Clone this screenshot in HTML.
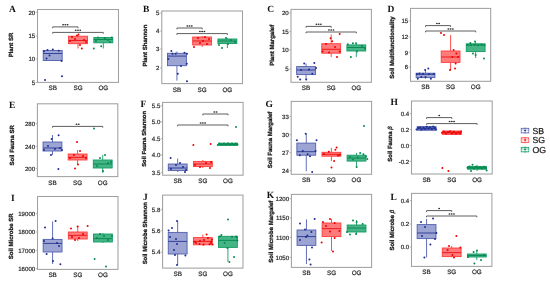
<!DOCTYPE html>
<html><head><meta charset="utf-8"><style>
html,body{margin:0;padding:0;background:#fff;}
body{width:550px;height:281px;overflow:hidden;}
svg{display:block;will-change:transform;}
text{text-rendering:geometricPrecision;}
.tk{font-family:"Liberation Sans", sans-serif;font-size:6.1px;fill:#262626;stroke:#262626;stroke-width:0.18px;}
.xl{font-family:"Liberation Sans", sans-serif;font-size:6.3px;fill:#262626;stroke:#262626;stroke-width:0.18px;}
.yl{font-family:"Liberation Sans", sans-serif;font-size:6.0px;font-weight:bold;fill:#111;stroke:#111;stroke-width:0.25px;}
.pl{font-family:"Liberation Serif", serif;font-size:9.5px;font-weight:bold;fill:#111;}
.lg{font-family:"Liberation Sans", sans-serif;font-size:8.7px;fill:#222;stroke:#222;stroke-width:0.25px;}
</style></head><body>
<svg width="550" height="281" viewBox="0 0 550 281">
<rect width="550" height="281" fill="#fff"/>
<rect x="37.50" y="9.50" width="81.00" height="72.90" fill="none" stroke="#a0a0a0" stroke-width="1.05"/>
<line x1="35.80" y1="12.40" x2="37.50" y2="12.40" stroke="#a0a0a0" stroke-width="0.8"/>
<text x="35.20" y="14.55" class="tk" text-anchor="end">20</text>
<line x1="35.80" y1="36.00" x2="37.50" y2="36.00" stroke="#a0a0a0" stroke-width="0.8"/>
<text x="35.20" y="38.15" class="tk" text-anchor="end">15</text>
<line x1="35.80" y1="59.00" x2="37.50" y2="59.00" stroke="#a0a0a0" stroke-width="0.8"/>
<text x="35.20" y="61.15" class="tk" text-anchor="end">10</text>
<line x1="35.80" y1="82.50" x2="37.50" y2="82.50" stroke="#a0a0a0" stroke-width="0.8"/>
<text x="35.20" y="84.65" class="tk" text-anchor="end">5</text>
<text x="52.69" y="90.30" class="xl" text-anchor="middle">SB</text>
<text x="78.00" y="90.30" class="xl" text-anchor="middle">SG</text>
<text x="103.31" y="90.30" class="xl" text-anchor="middle">OG</text>
<text x="0" y="0" class="yl" text-anchor="middle" transform="translate(13.00,45.00) rotate(-90)">Plant SR</text>
<text x="8.90" y="11.85" class="pl">A</text>
<line x1="52.69" y1="49.50" x2="52.69" y2="50.50" stroke="#5160ae" stroke-width="0.9"/>
<line x1="52.69" y1="60.50" x2="52.69" y2="61.00" stroke="#5160ae" stroke-width="0.9"/>
<rect x="43.20" y="50.50" width="18.98" height="10.00" fill="#9ba4d3" stroke="#5160ae" stroke-width="0.9"/>
<line x1="43.20" y1="53.50" x2="62.18" y2="53.50" stroke="#34429a" stroke-width="1"/>
<circle cx="44.00" cy="51.20" r="1.0" fill="#1f2e92"/>
<circle cx="47.50" cy="50.00" r="1.0" fill="#1f2e92"/>
<circle cx="52.80" cy="49.50" r="1.0" fill="#1f2e92"/>
<circle cx="58.80" cy="50.80" r="1.0" fill="#1f2e92"/>
<circle cx="49.50" cy="55.50" r="1.0" fill="#1f2e92"/>
<circle cx="46.50" cy="58.50" r="1.0" fill="#1f2e92"/>
<circle cx="61.50" cy="61.00" r="1.0" fill="#1f2e92"/>
<circle cx="45.00" cy="80.00" r="1.0" fill="#1f2e92"/>
<circle cx="62.00" cy="76.30" r="1.0" fill="#1f2e92"/>
<line x1="78.00" y1="35.00" x2="78.00" y2="36.20" stroke="#ff3c3c" stroke-width="0.9"/>
<line x1="78.00" y1="43.70" x2="78.00" y2="48.50" stroke="#ff3c3c" stroke-width="0.9"/>
<rect x="68.51" y="36.20" width="18.98" height="7.50" fill="#ff7a7a" stroke="#ff3c3c" stroke-width="0.9"/>
<line x1="68.51" y1="40.50" x2="87.49" y2="40.50" stroke="#ee1c1c" stroke-width="1"/>
<circle cx="78.50" cy="34.50" r="1.0" fill="#ee0000"/>
<circle cx="77.00" cy="35.50" r="1.0" fill="#ee0000"/>
<circle cx="81.80" cy="48.50" r="1.0" fill="#ee0000"/>
<circle cx="80.00" cy="45.00" r="1.0" fill="#ee0000"/>
<circle cx="72.00" cy="37.00" r="1.0" fill="#ee0000"/>
<circle cx="75.00" cy="39.00" r="1.0" fill="#ee0000"/>
<circle cx="84.00" cy="40.00" r="1.0" fill="#ee0000"/>
<circle cx="86.00" cy="42.00" r="1.0" fill="#ee0000"/>
<circle cx="70.00" cy="41.00" r="1.0" fill="#ee0000"/>
<line x1="103.31" y1="37.00" x2="103.31" y2="37.50" stroke="#129c66" stroke-width="0.9"/>
<line x1="103.31" y1="42.80" x2="103.31" y2="48.50" stroke="#129c66" stroke-width="0.9"/>
<rect x="93.82" y="37.50" width="18.98" height="5.30" fill="#45b585" stroke="#129c66" stroke-width="0.9"/>
<line x1="93.82" y1="39.50" x2="112.80" y2="39.50" stroke="#0b8a55" stroke-width="1"/>
<circle cx="93.80" cy="48.50" r="1.0" fill="#078a4e"/>
<circle cx="101.20" cy="46.20" r="1.0" fill="#078a4e"/>
<circle cx="111.80" cy="37.50" r="1.0" fill="#078a4e"/>
<circle cx="98.00" cy="37.50" r="1.0" fill="#078a4e"/>
<circle cx="105.00" cy="38.00" r="1.0" fill="#078a4e"/>
<circle cx="108.00" cy="40.00" r="1.0" fill="#078a4e"/>
<circle cx="96.00" cy="41.00" r="1.0" fill="#078a4e"/>
<circle cx="110.00" cy="42.00" r="1.0" fill="#078a4e"/>
<path d="M52.69 28.20V26.90H78.00V28.20" fill="none" stroke="#5e5e5e" stroke-width="1"/>
<ellipse cx="63.09" cy="24.80" rx="0.95" ry="0.75" fill="#2a2a2a"/>
<ellipse cx="65.34" cy="24.80" rx="0.95" ry="0.75" fill="#2a2a2a"/>
<ellipse cx="67.59" cy="24.80" rx="0.95" ry="0.75" fill="#2a2a2a"/>
<path d="M52.69 33.70V32.40H103.31V33.70" fill="none" stroke="#5e5e5e" stroke-width="1"/>
<ellipse cx="75.75" cy="30.30" rx="0.95" ry="0.75" fill="#2a2a2a"/>
<ellipse cx="78.00" cy="30.30" rx="0.95" ry="0.75" fill="#2a2a2a"/>
<ellipse cx="80.25" cy="30.30" rx="0.95" ry="0.75" fill="#2a2a2a"/>
<rect x="161.80" y="11.00" width="80.70" height="72.60" fill="none" stroke="#a0a0a0" stroke-width="1.05"/>
<line x1="160.10" y1="13.00" x2="161.80" y2="13.00" stroke="#a0a0a0" stroke-width="0.8"/>
<text x="159.50" y="15.15" class="tk" text-anchor="end">5</text>
<line x1="160.10" y1="31.00" x2="161.80" y2="31.00" stroke="#a0a0a0" stroke-width="0.8"/>
<text x="159.50" y="33.15" class="tk" text-anchor="end">4</text>
<line x1="160.10" y1="49.00" x2="161.80" y2="49.00" stroke="#a0a0a0" stroke-width="0.8"/>
<text x="159.50" y="51.15" class="tk" text-anchor="end">3</text>
<line x1="160.10" y1="68.00" x2="161.80" y2="68.00" stroke="#a0a0a0" stroke-width="0.8"/>
<text x="159.50" y="70.15" class="tk" text-anchor="end">2</text>
<text x="176.93" y="91.50" class="xl" text-anchor="middle">SB</text>
<text x="202.15" y="91.50" class="xl" text-anchor="middle">SG</text>
<text x="227.37" y="91.50" class="xl" text-anchor="middle">OG</text>
<text x="0" y="0" class="yl" text-anchor="middle" transform="translate(147.40,45.60) rotate(-90)">Plant Shannon</text>
<text x="143.10" y="12.00" class="pl">B</text>
<line x1="176.93" y1="51.50" x2="176.93" y2="53.30" stroke="#5160ae" stroke-width="0.9"/>
<line x1="176.93" y1="65.70" x2="176.93" y2="80.60" stroke="#5160ae" stroke-width="0.9"/>
<rect x="167.47" y="53.30" width="18.91" height="12.40" fill="#9ba4d3" stroke="#5160ae" stroke-width="0.9"/>
<line x1="167.47" y1="56.10" x2="186.39" y2="56.10" stroke="#34429a" stroke-width="1"/>
<circle cx="171.40" cy="51.00" r="1.0" fill="#1f2e92"/>
<circle cx="184.50" cy="52.80" r="1.0" fill="#1f2e92"/>
<circle cx="172.50" cy="53.80" r="1.0" fill="#1f2e92"/>
<circle cx="175.70" cy="53.80" r="1.0" fill="#1f2e92"/>
<circle cx="187.00" cy="53.80" r="1.0" fill="#1f2e92"/>
<circle cx="168.30" cy="59.00" r="1.0" fill="#1f2e92"/>
<circle cx="186.80" cy="63.80" r="1.0" fill="#1f2e92"/>
<circle cx="181.00" cy="66.00" r="1.0" fill="#1f2e92"/>
<circle cx="177.80" cy="73.80" r="1.0" fill="#1f2e92"/>
<circle cx="187.00" cy="81.30" r="1.0" fill="#1f2e92"/>
<line x1="202.15" y1="36.00" x2="202.15" y2="37.00" stroke="#ff3c3c" stroke-width="0.9"/>
<line x1="202.15" y1="45.00" x2="202.15" y2="47.00" stroke="#ff3c3c" stroke-width="0.9"/>
<rect x="192.69" y="37.00" width="18.91" height="8.00" fill="#ff7a7a" stroke="#ff3c3c" stroke-width="0.9"/>
<line x1="192.69" y1="41.00" x2="211.61" y2="41.00" stroke="#ee1c1c" stroke-width="1"/>
<circle cx="194.00" cy="47.00" r="1.0" fill="#ee0000"/>
<circle cx="198.00" cy="38.00" r="1.0" fill="#ee0000"/>
<circle cx="205.00" cy="37.00" r="1.0" fill="#ee0000"/>
<circle cx="209.00" cy="39.00" r="1.0" fill="#ee0000"/>
<circle cx="200.00" cy="43.00" r="1.0" fill="#ee0000"/>
<circle cx="207.00" cy="44.00" r="1.0" fill="#ee0000"/>
<circle cx="203.00" cy="41.00" r="1.0" fill="#ee0000"/>
<line x1="227.37" y1="38.00" x2="227.37" y2="39.00" stroke="#129c66" stroke-width="0.9"/>
<line x1="227.37" y1="43.60" x2="227.37" y2="48.00" stroke="#129c66" stroke-width="0.9"/>
<rect x="217.91" y="39.00" width="18.91" height="4.60" fill="#45b585" stroke="#129c66" stroke-width="0.9"/>
<line x1="217.91" y1="41.00" x2="236.83" y2="41.00" stroke="#0b8a55" stroke-width="1"/>
<circle cx="219.00" cy="45.00" r="1.0" fill="#078a4e"/>
<circle cx="222.00" cy="48.00" r="1.0" fill="#078a4e"/>
<circle cx="226.00" cy="38.00" r="1.0" fill="#078a4e"/>
<circle cx="231.00" cy="40.00" r="1.0" fill="#078a4e"/>
<circle cx="235.00" cy="42.00" r="1.0" fill="#078a4e"/>
<circle cx="228.00" cy="44.00" r="1.0" fill="#078a4e"/>
<path d="M176.93 29.30V28.00H202.15V29.30" fill="none" stroke="#5e5e5e" stroke-width="1"/>
<ellipse cx="187.29" cy="25.90" rx="0.95" ry="0.75" fill="#2a2a2a"/>
<ellipse cx="189.54" cy="25.90" rx="0.95" ry="0.75" fill="#2a2a2a"/>
<ellipse cx="191.79" cy="25.90" rx="0.95" ry="0.75" fill="#2a2a2a"/>
<path d="M176.93 34.90V33.60H227.37V34.90" fill="none" stroke="#5e5e5e" stroke-width="1"/>
<ellipse cx="199.90" cy="31.50" rx="0.95" ry="0.75" fill="#2a2a2a"/>
<ellipse cx="202.15" cy="31.50" rx="0.95" ry="0.75" fill="#2a2a2a"/>
<ellipse cx="204.40" cy="31.50" rx="0.95" ry="0.75" fill="#2a2a2a"/>
<rect x="291.00" y="9.40" width="80.40" height="72.90" fill="none" stroke="#a0a0a0" stroke-width="1.05"/>
<line x1="289.30" y1="13.00" x2="291.00" y2="13.00" stroke="#a0a0a0" stroke-width="0.8"/>
<text x="288.70" y="15.15" class="tk" text-anchor="end">20</text>
<line x1="289.30" y1="31.60" x2="291.00" y2="31.60" stroke="#a0a0a0" stroke-width="0.8"/>
<text x="288.70" y="33.75" class="tk" text-anchor="end">15</text>
<line x1="289.30" y1="50.00" x2="291.00" y2="50.00" stroke="#a0a0a0" stroke-width="0.8"/>
<text x="288.70" y="52.15" class="tk" text-anchor="end">10</text>
<line x1="289.30" y1="69.00" x2="291.00" y2="69.00" stroke="#a0a0a0" stroke-width="0.8"/>
<text x="288.70" y="71.15" class="tk" text-anchor="end">5</text>
<text x="306.07" y="90.20" class="xl" text-anchor="middle">SB</text>
<text x="331.20" y="90.20" class="xl" text-anchor="middle">SG</text>
<text x="356.32" y="90.20" class="xl" text-anchor="middle">OG</text>
<text x="0" y="0" class="yl" text-anchor="middle" transform="translate(274.10,45.30) rotate(-90)">Plant Margalef</text>
<text x="267.30" y="11.90" class="pl">C</text>
<line x1="306.07" y1="63.50" x2="306.07" y2="66.60" stroke="#5160ae" stroke-width="0.9"/>
<line x1="306.07" y1="74.60" x2="306.07" y2="79.40" stroke="#5160ae" stroke-width="0.9"/>
<rect x="296.65" y="66.60" width="18.84" height="8.00" fill="#9ba4d3" stroke="#5160ae" stroke-width="0.9"/>
<line x1="296.65" y1="70.00" x2="315.50" y2="70.00" stroke="#34429a" stroke-width="1"/>
<circle cx="304.20" cy="63.50" r="1.0" fill="#1f2e92"/>
<circle cx="314.30" cy="63.10" r="1.0" fill="#1f2e92"/>
<circle cx="316.00" cy="68.00" r="1.0" fill="#1f2e92"/>
<circle cx="297.70" cy="76.70" r="1.0" fill="#1f2e92"/>
<circle cx="300.10" cy="79.40" r="1.0" fill="#1f2e92"/>
<circle cx="306.20" cy="79.40" r="1.0" fill="#1f2e92"/>
<circle cx="312.30" cy="73.70" r="1.0" fill="#1f2e92"/>
<circle cx="301.00" cy="70.00" r="1.0" fill="#1f2e92"/>
<circle cx="309.00" cy="69.50" r="1.0" fill="#1f2e92"/>
<line x1="331.20" y1="34.50" x2="331.20" y2="43.70" stroke="#ff3c3c" stroke-width="0.9"/>
<line x1="331.20" y1="53.20" x2="331.20" y2="57.00" stroke="#ff3c3c" stroke-width="0.9"/>
<rect x="321.78" y="43.70" width="18.84" height="9.50" fill="#ff7a7a" stroke="#ff3c3c" stroke-width="0.9"/>
<line x1="321.78" y1="49.30" x2="340.62" y2="49.30" stroke="#ee1c1c" stroke-width="1"/>
<circle cx="339.70" cy="34.10" r="1.0" fill="#ee0000"/>
<circle cx="330.60" cy="38.20" r="1.0" fill="#ee0000"/>
<circle cx="332.20" cy="41.20" r="1.0" fill="#ee0000"/>
<circle cx="322.50" cy="51.40" r="1.0" fill="#ee0000"/>
<circle cx="337.00" cy="57.00" r="1.0" fill="#ee0000"/>
<circle cx="339.70" cy="51.40" r="1.0" fill="#ee0000"/>
<circle cx="326.00" cy="44.00" r="1.0" fill="#ee0000"/>
<circle cx="335.00" cy="47.00" r="1.0" fill="#ee0000"/>
<circle cx="329.00" cy="52.50" r="1.0" fill="#ee0000"/>
<line x1="356.32" y1="43.50" x2="356.32" y2="44.90" stroke="#129c66" stroke-width="0.9"/>
<line x1="356.32" y1="51.00" x2="356.32" y2="57.00" stroke="#129c66" stroke-width="0.9"/>
<rect x="346.90" y="44.90" width="18.84" height="6.10" fill="#45b585" stroke="#129c66" stroke-width="0.9"/>
<line x1="346.90" y1="47.50" x2="365.75" y2="47.50" stroke="#0b8a55" stroke-width="1"/>
<circle cx="350.90" cy="57.00" r="1.0" fill="#078a4e"/>
<circle cx="347.80" cy="44.30" r="1.0" fill="#078a4e"/>
<circle cx="352.90" cy="43.30" r="1.0" fill="#078a4e"/>
<circle cx="356.00" cy="43.30" r="1.0" fill="#078a4e"/>
<circle cx="357.00" cy="51.40" r="1.0" fill="#078a4e"/>
<circle cx="362.00" cy="46.00" r="1.0" fill="#078a4e"/>
<circle cx="365.00" cy="48.50" r="1.0" fill="#078a4e"/>
<path d="M306.07 27.70V26.40H331.20V27.70" fill="none" stroke="#5e5e5e" stroke-width="1"/>
<ellipse cx="316.39" cy="24.30" rx="0.95" ry="0.75" fill="#2a2a2a"/>
<ellipse cx="318.64" cy="24.30" rx="0.95" ry="0.75" fill="#2a2a2a"/>
<ellipse cx="320.89" cy="24.30" rx="0.95" ry="0.75" fill="#2a2a2a"/>
<path d="M306.07 33.30V32.00H356.32V33.30" fill="none" stroke="#5e5e5e" stroke-width="1"/>
<ellipse cx="328.95" cy="29.90" rx="0.95" ry="0.75" fill="#2a2a2a"/>
<ellipse cx="331.20" cy="29.90" rx="0.95" ry="0.75" fill="#2a2a2a"/>
<ellipse cx="333.45" cy="29.90" rx="0.95" ry="0.75" fill="#2a2a2a"/>
<rect x="410.50" y="8.40" width="80.20" height="72.90" fill="none" stroke="#a0a0a0" stroke-width="1.05"/>
<line x1="408.80" y1="21.00" x2="410.50" y2="21.00" stroke="#a0a0a0" stroke-width="0.8"/>
<text x="408.20" y="23.15" class="tk" text-anchor="end">15</text>
<line x1="408.80" y1="37.00" x2="410.50" y2="37.00" stroke="#a0a0a0" stroke-width="0.8"/>
<text x="408.20" y="39.15" class="tk" text-anchor="end">12</text>
<line x1="408.80" y1="52.40" x2="410.50" y2="52.40" stroke="#a0a0a0" stroke-width="0.8"/>
<text x="408.20" y="54.55" class="tk" text-anchor="end">9</text>
<line x1="408.80" y1="67.00" x2="410.50" y2="67.00" stroke="#a0a0a0" stroke-width="0.8"/>
<text x="408.20" y="69.15" class="tk" text-anchor="end">6</text>
<text x="425.54" y="89.20" class="xl" text-anchor="middle">SB</text>
<text x="450.60" y="89.20" class="xl" text-anchor="middle">SG</text>
<text x="475.66" y="89.20" class="xl" text-anchor="middle">OG</text>
<text x="0" y="0" class="yl" text-anchor="middle" transform="translate(393.60,47.60) rotate(-90)">Soil Multifunctionality</text>
<text x="387.60" y="11.90" class="pl">D</text>
<line x1="425.54" y1="70.00" x2="425.54" y2="73.20" stroke="#5160ae" stroke-width="0.9"/>
<line x1="425.54" y1="77.60" x2="425.54" y2="78.70" stroke="#5160ae" stroke-width="0.9"/>
<rect x="416.14" y="73.20" width="18.80" height="4.40" fill="#9ba4d3" stroke="#5160ae" stroke-width="0.9"/>
<line x1="416.14" y1="74.30" x2="434.94" y2="74.30" stroke="#34429a" stroke-width="1"/>
<circle cx="425.10" cy="70.10" r="1.0" fill="#1f2e92"/>
<circle cx="428.30" cy="68.50" r="1.0" fill="#1f2e92"/>
<circle cx="417.80" cy="78.70" r="1.0" fill="#1f2e92"/>
<circle cx="421.30" cy="77.10" r="1.0" fill="#1f2e92"/>
<circle cx="425.50" cy="77.10" r="1.0" fill="#1f2e92"/>
<circle cx="430.90" cy="78.70" r="1.0" fill="#1f2e92"/>
<circle cx="433.80" cy="73.90" r="1.0" fill="#1f2e92"/>
<circle cx="416.80" cy="74.30" r="1.0" fill="#1f2e92"/>
<circle cx="419.50" cy="73.60" r="1.0" fill="#1f2e92"/>
<circle cx="423.00" cy="73.80" r="1.0" fill="#1f2e92"/>
<circle cx="429.00" cy="74.00" r="1.0" fill="#1f2e92"/>
<line x1="450.60" y1="35.00" x2="450.60" y2="51.00" stroke="#ff3c3c" stroke-width="0.9"/>
<line x1="450.60" y1="62.40" x2="450.60" y2="70.00" stroke="#ff3c3c" stroke-width="0.9"/>
<rect x="441.20" y="51.00" width="18.80" height="11.40" fill="#ff7a7a" stroke="#ff3c3c" stroke-width="0.9"/>
<line x1="441.20" y1="57.00" x2="460.00" y2="57.00" stroke="#ee1c1c" stroke-width="1"/>
<circle cx="441.00" cy="33.00" r="1.0" fill="#ee0000"/>
<circle cx="444.00" cy="35.00" r="1.0" fill="#ee0000"/>
<circle cx="453.60" cy="50.00" r="1.0" fill="#ee0000"/>
<circle cx="456.40" cy="53.60" r="1.0" fill="#ee0000"/>
<circle cx="450.00" cy="70.00" r="1.0" fill="#ee0000"/>
<circle cx="455.00" cy="68.60" r="1.0" fill="#ee0000"/>
<circle cx="452.40" cy="57.00" r="1.0" fill="#ee0000"/>
<circle cx="458.00" cy="57.00" r="1.0" fill="#ee0000"/>
<circle cx="455.60" cy="63.60" r="1.0" fill="#ee0000"/>
<line x1="475.66" y1="42.00" x2="475.66" y2="43.80" stroke="#129c66" stroke-width="0.9"/>
<line x1="475.66" y1="51.60" x2="475.66" y2="58.00" stroke="#129c66" stroke-width="0.9"/>
<rect x="466.26" y="43.80" width="18.80" height="7.80" fill="#45b585" stroke="#129c66" stroke-width="0.9"/>
<line x1="466.26" y1="45.00" x2="485.06" y2="45.00" stroke="#0b8a55" stroke-width="1"/>
<circle cx="470.40" cy="43.00" r="1.0" fill="#078a4e"/>
<circle cx="475.00" cy="41.60" r="1.0" fill="#078a4e"/>
<circle cx="473.00" cy="53.60" r="1.0" fill="#078a4e"/>
<circle cx="475.60" cy="55.00" r="1.0" fill="#078a4e"/>
<circle cx="484.00" cy="58.40" r="1.0" fill="#078a4e"/>
<circle cx="467.50" cy="45.00" r="1.0" fill="#078a4e"/>
<circle cx="471.00" cy="45.30" r="1.0" fill="#078a4e"/>
<circle cx="474.50" cy="44.80" r="1.0" fill="#078a4e"/>
<circle cx="478.00" cy="45.20" r="1.0" fill="#078a4e"/>
<circle cx="481.50" cy="44.80" r="1.0" fill="#078a4e"/>
<circle cx="484.50" cy="45.20" r="1.0" fill="#078a4e"/>
<path d="M425.54 26.90V25.60H450.60V26.90" fill="none" stroke="#5e5e5e" stroke-width="1"/>
<ellipse cx="436.94" cy="23.50" rx="0.95" ry="0.75" fill="#2a2a2a"/>
<ellipse cx="439.19" cy="23.50" rx="0.95" ry="0.75" fill="#2a2a2a"/>
<path d="M425.54 32.30V31.00H475.66V32.30" fill="none" stroke="#5e5e5e" stroke-width="1"/>
<ellipse cx="448.35" cy="28.90" rx="0.95" ry="0.75" fill="#2a2a2a"/>
<ellipse cx="450.60" cy="28.90" rx="0.95" ry="0.75" fill="#2a2a2a"/>
<ellipse cx="452.85" cy="28.90" rx="0.95" ry="0.75" fill="#2a2a2a"/>
<rect x="37.40" y="103.80" width="80.40" height="72.80" fill="none" stroke="#a0a0a0" stroke-width="1.05"/>
<line x1="35.70" y1="123.60" x2="37.40" y2="123.60" stroke="#a0a0a0" stroke-width="0.8"/>
<text x="35.10" y="125.75" class="tk" text-anchor="end">280</text>
<line x1="35.70" y1="146.40" x2="37.40" y2="146.40" stroke="#a0a0a0" stroke-width="0.8"/>
<text x="35.10" y="148.55" class="tk" text-anchor="end">240</text>
<line x1="35.70" y1="168.60" x2="37.40" y2="168.60" stroke="#a0a0a0" stroke-width="0.8"/>
<text x="35.10" y="170.75" class="tk" text-anchor="end">200</text>
<text x="52.47" y="184.50" class="xl" text-anchor="middle">SB</text>
<text x="77.60" y="184.50" class="xl" text-anchor="middle">SG</text>
<text x="102.72" y="184.50" class="xl" text-anchor="middle">OG</text>
<text x="0" y="0" class="yl" text-anchor="middle" transform="translate(14.40,145.30) rotate(-90)">Soil Fauna SR</text>
<text x="9.00" y="107.70" class="pl">E</text>
<line x1="52.47" y1="135.00" x2="52.47" y2="142.00" stroke="#5160ae" stroke-width="0.9"/>
<line x1="52.47" y1="151.00" x2="52.47" y2="155.00" stroke="#5160ae" stroke-width="0.9"/>
<rect x="43.05" y="142.00" width="18.84" height="9.00" fill="#9ba4d3" stroke="#5160ae" stroke-width="0.9"/>
<line x1="43.05" y1="148.00" x2="61.90" y2="148.00" stroke="#34429a" stroke-width="1"/>
<circle cx="58.60" cy="135.20" r="1.0" fill="#1f2e92"/>
<circle cx="51.60" cy="139.00" r="1.0" fill="#1f2e92"/>
<circle cx="51.00" cy="155.00" r="1.0" fill="#1f2e92"/>
<circle cx="58.40" cy="169.00" r="1.0" fill="#1f2e92"/>
<circle cx="44.00" cy="150.00" r="1.0" fill="#1f2e92"/>
<circle cx="48.00" cy="146.00" r="1.0" fill="#1f2e92"/>
<circle cx="55.00" cy="149.00" r="1.0" fill="#1f2e92"/>
<circle cx="60.00" cy="148.00" r="1.0" fill="#1f2e92"/>
<circle cx="62.00" cy="150.00" r="1.0" fill="#1f2e92"/>
<line x1="77.60" y1="150.00" x2="77.60" y2="154.00" stroke="#ff3c3c" stroke-width="0.9"/>
<line x1="77.60" y1="160.00" x2="77.60" y2="165.00" stroke="#ff3c3c" stroke-width="0.9"/>
<rect x="68.18" y="154.00" width="18.84" height="6.00" fill="#ff7a7a" stroke="#ff3c3c" stroke-width="0.9"/>
<line x1="68.18" y1="157.40" x2="87.02" y2="157.40" stroke="#ee1c1c" stroke-width="1"/>
<circle cx="77.00" cy="142.00" r="1.0" fill="#ee0000"/>
<circle cx="75.00" cy="168.60" r="1.0" fill="#ee0000"/>
<circle cx="78.00" cy="164.60" r="1.0" fill="#ee0000"/>
<circle cx="70.00" cy="158.00" r="1.0" fill="#ee0000"/>
<circle cx="74.00" cy="155.00" r="1.0" fill="#ee0000"/>
<circle cx="83.00" cy="156.00" r="1.0" fill="#ee0000"/>
<circle cx="86.00" cy="158.00" r="1.0" fill="#ee0000"/>
<circle cx="80.00" cy="151.00" r="1.0" fill="#ee0000"/>
<line x1="102.72" y1="155.00" x2="102.72" y2="160.00" stroke="#129c66" stroke-width="0.9"/>
<line x1="102.72" y1="168.00" x2="102.72" y2="173.00" stroke="#129c66" stroke-width="0.9"/>
<rect x="93.30" y="160.00" width="18.84" height="8.00" fill="#45b585" stroke="#129c66" stroke-width="0.9"/>
<line x1="93.30" y1="164.00" x2="112.15" y2="164.00" stroke="#0b8a55" stroke-width="1"/>
<circle cx="94.00" cy="128.60" r="1.0" fill="#078a4e"/>
<circle cx="100.00" cy="158.00" r="1.0" fill="#078a4e"/>
<circle cx="105.00" cy="155.00" r="1.0" fill="#078a4e"/>
<circle cx="108.00" cy="163.00" r="1.0" fill="#078a4e"/>
<circle cx="97.00" cy="166.00" r="1.0" fill="#078a4e"/>
<circle cx="111.00" cy="162.00" r="1.0" fill="#078a4e"/>
<circle cx="103.00" cy="171.00" r="1.0" fill="#078a4e"/>
<path d="M52.47 127.70V126.40H102.72V127.70" fill="none" stroke="#5e5e5e" stroke-width="1"/>
<ellipse cx="76.47" cy="124.30" rx="0.95" ry="0.75" fill="#2a2a2a"/>
<ellipse cx="78.72" cy="124.30" rx="0.95" ry="0.75" fill="#2a2a2a"/>
<rect x="162.60" y="102.40" width="80.50" height="72.80" fill="none" stroke="#a0a0a0" stroke-width="1.05"/>
<line x1="160.90" y1="105.60" x2="162.60" y2="105.60" stroke="#a0a0a0" stroke-width="0.8"/>
<text x="160.30" y="107.75" class="tk" text-anchor="end">5.5</text>
<line x1="160.90" y1="121.80" x2="162.60" y2="121.80" stroke="#a0a0a0" stroke-width="0.8"/>
<text x="160.30" y="123.95" class="tk" text-anchor="end">5.0</text>
<line x1="160.90" y1="138.50" x2="162.60" y2="138.50" stroke="#a0a0a0" stroke-width="0.8"/>
<text x="160.30" y="140.65" class="tk" text-anchor="end">4.5</text>
<line x1="160.90" y1="155.00" x2="162.60" y2="155.00" stroke="#a0a0a0" stroke-width="0.8"/>
<text x="160.30" y="157.15" class="tk" text-anchor="end">4.0</text>
<line x1="160.90" y1="172.40" x2="162.60" y2="172.40" stroke="#a0a0a0" stroke-width="0.8"/>
<text x="160.30" y="174.55" class="tk" text-anchor="end">3.5</text>
<text x="177.69" y="183.10" class="xl" text-anchor="middle">SB</text>
<text x="202.85" y="183.10" class="xl" text-anchor="middle">SG</text>
<text x="228.01" y="183.10" class="xl" text-anchor="middle">OG</text>
<text x="0" y="0" class="yl" style="font-size:5.8px" text-anchor="middle" transform="translate(146.10,138.90) rotate(-90)">Soil Fauna Shannon</text>
<text x="140.50" y="106.60" class="pl">F</text>
<line x1="177.69" y1="158.60" x2="177.69" y2="164.00" stroke="#5160ae" stroke-width="0.9"/>
<line x1="177.69" y1="170.60" x2="177.69" y2="172.00" stroke="#5160ae" stroke-width="0.9"/>
<rect x="168.26" y="164.00" width="18.87" height="6.60" fill="#9ba4d3" stroke="#5160ae" stroke-width="0.9"/>
<line x1="168.26" y1="168.00" x2="187.13" y2="168.00" stroke="#34429a" stroke-width="1"/>
<circle cx="170.60" cy="158.00" r="1.0" fill="#1f2e92"/>
<circle cx="176.00" cy="165.00" r="1.0" fill="#1f2e92"/>
<circle cx="180.00" cy="163.00" r="1.0" fill="#1f2e92"/>
<circle cx="183.00" cy="167.00" r="1.0" fill="#1f2e92"/>
<circle cx="186.00" cy="170.00" r="1.0" fill="#1f2e92"/>
<circle cx="185.00" cy="172.00" r="1.0" fill="#1f2e92"/>
<circle cx="171.00" cy="169.00" r="1.0" fill="#1f2e92"/>
<line x1="202.85" y1="160.00" x2="202.85" y2="161.40" stroke="#ff3c3c" stroke-width="0.9"/>
<line x1="202.85" y1="166.60" x2="202.85" y2="168.00" stroke="#ff3c3c" stroke-width="0.9"/>
<rect x="193.42" y="161.40" width="18.87" height="5.20" fill="#ff7a7a" stroke="#ff3c3c" stroke-width="0.9"/>
<line x1="193.42" y1="164.00" x2="212.28" y2="164.00" stroke="#ee1c1c" stroke-width="1"/>
<circle cx="193.40" cy="145.00" r="1.0" fill="#ee0000"/>
<circle cx="210.60" cy="144.00" r="1.0" fill="#ee0000"/>
<circle cx="200.00" cy="167.00" r="1.0" fill="#ee0000"/>
<circle cx="206.00" cy="163.00" r="1.0" fill="#ee0000"/>
<circle cx="211.00" cy="162.00" r="1.0" fill="#ee0000"/>
<circle cx="195.00" cy="165.00" r="1.0" fill="#ee0000"/>
<circle cx="210.00" cy="168.00" r="1.0" fill="#ee0000"/>
<line x1="228.01" y1="142.50" x2="228.01" y2="143.20" stroke="#129c66" stroke-width="0.9"/>
<line x1="228.01" y1="145.40" x2="228.01" y2="146.00" stroke="#129c66" stroke-width="0.9"/>
<rect x="218.57" y="143.20" width="18.87" height="2.20" fill="#1c9a62" stroke="#129c66" stroke-width="0.9"/>
<line x1="218.57" y1="144.30" x2="237.44" y2="144.30" stroke="#0b8a55" stroke-width="1"/>
<circle cx="236.00" cy="127.00" r="1.0" fill="#078a4e"/>
<circle cx="217.80" cy="145.00" r="1.0" fill="#078a4e"/>
<circle cx="219.50" cy="143.60" r="1.0" fill="#078a4e"/>
<circle cx="221.50" cy="144.60" r="1.0" fill="#078a4e"/>
<circle cx="224.00" cy="143.40" r="1.0" fill="#078a4e"/>
<circle cx="226.00" cy="144.80" r="1.0" fill="#078a4e"/>
<circle cx="228.00" cy="143.60" r="1.0" fill="#078a4e"/>
<circle cx="230.00" cy="144.60" r="1.0" fill="#078a4e"/>
<circle cx="232.00" cy="143.40" r="1.0" fill="#078a4e"/>
<circle cx="234.00" cy="144.40" r="1.0" fill="#078a4e"/>
<circle cx="236.00" cy="143.60" r="1.0" fill="#078a4e"/>
<circle cx="237.50" cy="144.60" r="1.0" fill="#078a4e"/>
<path d="M202.85 115.30V114.00H228.01V115.30" fill="none" stroke="#5e5e5e" stroke-width="1"/>
<ellipse cx="214.30" cy="111.90" rx="0.95" ry="0.75" fill="#2a2a2a"/>
<ellipse cx="216.55" cy="111.90" rx="0.95" ry="0.75" fill="#2a2a2a"/>
<path d="M177.69 126.30V125.00H228.01V126.30" fill="none" stroke="#5e5e5e" stroke-width="1"/>
<ellipse cx="200.60" cy="122.90" rx="0.95" ry="0.75" fill="#2a2a2a"/>
<ellipse cx="202.85" cy="122.90" rx="0.95" ry="0.75" fill="#2a2a2a"/>
<ellipse cx="205.10" cy="122.90" rx="0.95" ry="0.75" fill="#2a2a2a"/>
<rect x="291.20" y="101.40" width="80.40" height="72.90" fill="none" stroke="#a0a0a0" stroke-width="1.05"/>
<line x1="289.50" y1="116.70" x2="291.20" y2="116.70" stroke="#a0a0a0" stroke-width="0.8"/>
<text x="288.90" y="118.85" class="tk" text-anchor="end">33</text>
<line x1="289.50" y1="134.70" x2="291.20" y2="134.70" stroke="#a0a0a0" stroke-width="0.8"/>
<text x="288.90" y="136.85" class="tk" text-anchor="end">30</text>
<line x1="289.50" y1="152.60" x2="291.20" y2="152.60" stroke="#a0a0a0" stroke-width="0.8"/>
<text x="288.90" y="154.75" class="tk" text-anchor="end">27</text>
<line x1="289.50" y1="170.60" x2="291.20" y2="170.60" stroke="#a0a0a0" stroke-width="0.8"/>
<text x="288.90" y="172.75" class="tk" text-anchor="end">24</text>
<text x="306.27" y="182.20" class="xl" text-anchor="middle">SB</text>
<text x="331.40" y="182.20" class="xl" text-anchor="middle">SG</text>
<text x="356.52" y="182.20" class="xl" text-anchor="middle">OG</text>
<text x="0" y="0" class="yl" text-anchor="middle" transform="translate(272.40,140.00) rotate(-90)">Soil Fauna Margalef</text>
<text x="265.50" y="106.50" class="pl">G</text>
<line x1="306.27" y1="133.70" x2="306.27" y2="143.10" stroke="#5160ae" stroke-width="0.9"/>
<line x1="306.27" y1="155.20" x2="306.27" y2="171.30" stroke="#5160ae" stroke-width="0.9"/>
<rect x="296.85" y="143.10" width="18.84" height="12.10" fill="#9ba4d3" stroke="#5160ae" stroke-width="0.9"/>
<line x1="296.85" y1="151.70" x2="315.70" y2="151.70" stroke="#34429a" stroke-width="1"/>
<circle cx="305.70" cy="133.70" r="1.0" fill="#1f2e92"/>
<circle cx="296.90" cy="140.20" r="1.0" fill="#1f2e92"/>
<circle cx="316.50" cy="140.20" r="1.0" fill="#1f2e92"/>
<circle cx="302.80" cy="150.90" r="1.0" fill="#1f2e92"/>
<circle cx="299.80" cy="155.20" r="1.0" fill="#1f2e92"/>
<circle cx="307.70" cy="154.20" r="1.0" fill="#1f2e92"/>
<circle cx="310.00" cy="156.20" r="1.0" fill="#1f2e92"/>
<circle cx="315.50" cy="150.90" r="1.0" fill="#1f2e92"/>
<circle cx="312.20" cy="171.90" r="1.0" fill="#1f2e92"/>
<line x1="331.40" y1="147.80" x2="331.40" y2="152.30" stroke="#ff3c3c" stroke-width="0.9"/>
<line x1="331.40" y1="156.20" x2="331.40" y2="161.10" stroke="#ff3c3c" stroke-width="0.9"/>
<rect x="321.98" y="152.30" width="18.84" height="3.90" fill="#ff7a7a" stroke="#ff3c3c" stroke-width="0.9"/>
<line x1="321.98" y1="154.30" x2="340.82" y2="154.30" stroke="#ee1c1c" stroke-width="1"/>
<circle cx="336.60" cy="147.40" r="1.0" fill="#ee0000"/>
<circle cx="335.40" cy="149.70" r="1.0" fill="#ee0000"/>
<circle cx="328.80" cy="151.70" r="1.0" fill="#ee0000"/>
<circle cx="334.10" cy="161.10" r="1.0" fill="#ee0000"/>
<circle cx="331.50" cy="167.60" r="1.0" fill="#ee0000"/>
<circle cx="340.00" cy="154.80" r="1.0" fill="#ee0000"/>
<circle cx="324.00" cy="154.00" r="1.0" fill="#ee0000"/>
<circle cx="338.00" cy="155.50" r="1.0" fill="#ee0000"/>
<line x1="356.52" y1="152.90" x2="356.52" y2="155.20" stroke="#129c66" stroke-width="0.9"/>
<line x1="356.52" y1="161.10" x2="356.52" y2="167.00" stroke="#129c66" stroke-width="0.9"/>
<rect x="347.10" y="155.20" width="18.84" height="5.90" fill="#45b585" stroke="#129c66" stroke-width="0.9"/>
<line x1="347.10" y1="158.00" x2="365.95" y2="158.00" stroke="#0b8a55" stroke-width="1"/>
<circle cx="360.10" cy="152.90" r="1.0" fill="#078a4e"/>
<circle cx="363.40" cy="154.20" r="1.0" fill="#078a4e"/>
<circle cx="357.60" cy="157.20" r="1.0" fill="#078a4e"/>
<circle cx="367.30" cy="159.10" r="1.0" fill="#078a4e"/>
<circle cx="356.60" cy="167.00" r="1.0" fill="#078a4e"/>
<circle cx="364.00" cy="125.90" r="1.0" fill="#078a4e"/>
<circle cx="350.00" cy="157.00" r="1.0" fill="#078a4e"/>
<circle cx="353.00" cy="159.50" r="1.0" fill="#078a4e"/>
<circle cx="366.00" cy="156.50" r="1.0" fill="#078a4e"/>
<rect x="411.50" y="101.00" width="80.70" height="73.00" fill="none" stroke="#a0a0a0" stroke-width="1.05"/>
<line x1="409.80" y1="113.60" x2="411.50" y2="113.60" stroke="#a0a0a0" stroke-width="0.8"/>
<text x="409.20" y="115.75" class="tk" text-anchor="end">0.4</text>
<line x1="409.80" y1="129.60" x2="411.50" y2="129.60" stroke="#a0a0a0" stroke-width="0.8"/>
<text x="409.20" y="131.75" class="tk" text-anchor="end">0.2</text>
<line x1="409.80" y1="145.50" x2="411.50" y2="145.50" stroke="#a0a0a0" stroke-width="0.8"/>
<text x="409.20" y="147.65" class="tk" text-anchor="end">0.0</text>
<line x1="409.80" y1="161.40" x2="411.50" y2="161.40" stroke="#a0a0a0" stroke-width="0.8"/>
<text x="409.20" y="163.55" class="tk" text-anchor="end">-0.2</text>
<text x="426.63" y="181.90" class="xl" text-anchor="middle">SB</text>
<text x="451.85" y="181.90" class="xl" text-anchor="middle">SG</text>
<text x="477.07" y="181.90" class="xl" text-anchor="middle">OG</text>
<text x="0" y="0" class="yl" text-anchor="middle" transform="translate(392.10,144.00) rotate(-90)">Soil Fauna <tspan font-style="italic" font-weight="normal">β</tspan></text>
<text x="390.40" y="105.10" class="pl">H</text>
<line x1="426.63" y1="126.00" x2="426.63" y2="126.60" stroke="#5160ae" stroke-width="0.9"/>
<line x1="426.63" y1="130.20" x2="426.63" y2="131.00" stroke="#5160ae" stroke-width="0.9"/>
<rect x="417.17" y="126.60" width="18.91" height="3.60" fill="#5664b4" stroke="#5160ae" stroke-width="0.9"/>
<line x1="417.17" y1="128.40" x2="436.09" y2="128.40" stroke="#34429a" stroke-width="1"/>
<circle cx="416.50" cy="129.50" r="1.0" fill="#1f2e92"/>
<circle cx="418.00" cy="128.00" r="1.0" fill="#1f2e92"/>
<circle cx="420.00" cy="127.50" r="1.0" fill="#1f2e92"/>
<circle cx="421.50" cy="129.80" r="1.0" fill="#1f2e92"/>
<circle cx="423.50" cy="127.80" r="1.0" fill="#1f2e92"/>
<circle cx="425.00" cy="129.00" r="1.0" fill="#1f2e92"/>
<circle cx="426.80" cy="126.80" r="1.0" fill="#1f2e92"/>
<circle cx="428.50" cy="128.80" r="1.0" fill="#1f2e92"/>
<circle cx="430.00" cy="127.20" r="1.0" fill="#1f2e92"/>
<circle cx="431.80" cy="129.20" r="1.0" fill="#1f2e92"/>
<circle cx="433.20" cy="126.60" r="1.0" fill="#1f2e92"/>
<circle cx="434.80" cy="128.00" r="1.0" fill="#1f2e92"/>
<circle cx="436.00" cy="129.50" r="1.0" fill="#1f2e92"/>
<line x1="451.85" y1="130.50" x2="451.85" y2="131.00" stroke="#ff3c3c" stroke-width="0.9"/>
<line x1="451.85" y1="134.40" x2="451.85" y2="135.00" stroke="#ff3c3c" stroke-width="0.9"/>
<rect x="442.39" y="131.00" width="18.91" height="3.40" fill="#ff4040" stroke="#ff3c3c" stroke-width="0.9"/>
<line x1="442.39" y1="132.50" x2="461.31" y2="132.50" stroke="#ee1c1c" stroke-width="1"/>
<circle cx="442.40" cy="168.00" r="1.0" fill="#ee0000"/>
<circle cx="448.40" cy="171.00" r="1.0" fill="#ee0000"/>
<circle cx="442.00" cy="132.80" r="1.0" fill="#ee0000"/>
<circle cx="444.00" cy="131.50" r="1.0" fill="#ee0000"/>
<circle cx="446.00" cy="133.60" r="1.0" fill="#ee0000"/>
<circle cx="448.00" cy="132.00" r="1.0" fill="#ee0000"/>
<circle cx="450.00" cy="131.20" r="1.0" fill="#ee0000"/>
<circle cx="452.00" cy="133.40" r="1.0" fill="#ee0000"/>
<circle cx="454.00" cy="131.80" r="1.0" fill="#ee0000"/>
<circle cx="456.00" cy="133.80" r="1.0" fill="#ee0000"/>
<circle cx="458.00" cy="132.20" r="1.0" fill="#ee0000"/>
<circle cx="460.00" cy="133.50" r="1.0" fill="#ee0000"/>
<circle cx="461.00" cy="131.50" r="1.0" fill="#ee0000"/>
<line x1="477.07" y1="164.80" x2="477.07" y2="166.40" stroke="#129c66" stroke-width="0.9"/>
<line x1="477.07" y1="169.20" x2="477.07" y2="171.00" stroke="#129c66" stroke-width="0.9"/>
<rect x="467.61" y="166.40" width="18.91" height="2.80" fill="#1c9a62" stroke="#129c66" stroke-width="0.9"/>
<line x1="467.61" y1="167.80" x2="486.53" y2="167.80" stroke="#0b8a55" stroke-width="1"/>
<circle cx="486.60" cy="170.40" r="1.0" fill="#078a4e"/>
<circle cx="471.00" cy="171.00" r="1.0" fill="#078a4e"/>
<circle cx="472.50" cy="164.80" r="1.0" fill="#078a4e"/>
<circle cx="467.50" cy="167.80" r="1.0" fill="#078a4e"/>
<circle cx="469.50" cy="166.60" r="1.0" fill="#078a4e"/>
<circle cx="474.00" cy="168.60" r="1.0" fill="#078a4e"/>
<circle cx="476.00" cy="166.80" r="1.0" fill="#078a4e"/>
<circle cx="478.00" cy="168.20" r="1.0" fill="#078a4e"/>
<circle cx="480.00" cy="167.00" r="1.0" fill="#078a4e"/>
<circle cx="482.00" cy="168.60" r="1.0" fill="#078a4e"/>
<circle cx="484.00" cy="166.80" r="1.0" fill="#078a4e"/>
<circle cx="486.00" cy="168.00" r="1.0" fill="#078a4e"/>
<path d="M426.63 118.90V117.60H451.85V118.90" fill="none" stroke="#5e5e5e" stroke-width="1"/>
<ellipse cx="439.24" cy="115.50" rx="0.95" ry="0.75" fill="#2a2a2a"/>
<path d="M426.63 124.90V123.60H477.07V124.90" fill="none" stroke="#5e5e5e" stroke-width="1"/>
<ellipse cx="449.60" cy="121.50" rx="0.95" ry="0.75" fill="#2a2a2a"/>
<ellipse cx="451.85" cy="121.50" rx="0.95" ry="0.75" fill="#2a2a2a"/>
<ellipse cx="454.10" cy="121.50" rx="0.95" ry="0.75" fill="#2a2a2a"/>
<rect x="37.50" y="196.50" width="80.50" height="72.90" fill="none" stroke="#a0a0a0" stroke-width="1.05"/>
<line x1="35.80" y1="213.60" x2="37.50" y2="213.60" stroke="#a0a0a0" stroke-width="0.8"/>
<text x="35.20" y="215.75" class="tk" text-anchor="end">19000</text>
<line x1="35.80" y1="232.00" x2="37.50" y2="232.00" stroke="#a0a0a0" stroke-width="0.8"/>
<text x="35.20" y="234.15" class="tk" text-anchor="end">18000</text>
<line x1="35.80" y1="250.60" x2="37.50" y2="250.60" stroke="#a0a0a0" stroke-width="0.8"/>
<text x="35.20" y="252.75" class="tk" text-anchor="end">17000</text>
<line x1="35.80" y1="268.60" x2="37.50" y2="268.60" stroke="#a0a0a0" stroke-width="0.8"/>
<text x="35.20" y="270.75" class="tk" text-anchor="end">16000</text>
<text x="52.59" y="277.30" class="xl" text-anchor="middle">SB</text>
<text x="77.75" y="277.30" class="xl" text-anchor="middle">SG</text>
<text x="102.91" y="277.30" class="xl" text-anchor="middle">OG</text>
<text x="0" y="0" class="yl" text-anchor="middle" transform="translate(13.00,236.30) rotate(-90)">Soil Microbe SR</text>
<text x="10.90" y="200.50" class="pl">I</text>
<line x1="52.59" y1="221.40" x2="52.59" y2="239.40" stroke="#5160ae" stroke-width="0.9"/>
<line x1="52.59" y1="252.00" x2="52.59" y2="264.00" stroke="#5160ae" stroke-width="0.9"/>
<rect x="43.16" y="239.40" width="18.87" height="12.60" fill="#9ba4d3" stroke="#5160ae" stroke-width="0.9"/>
<line x1="43.16" y1="243.40" x2="62.03" y2="243.40" stroke="#34429a" stroke-width="1"/>
<circle cx="55.60" cy="221.00" r="1.0" fill="#1f2e92"/>
<circle cx="45.00" cy="227.40" r="1.0" fill="#1f2e92"/>
<circle cx="53.00" cy="261.00" r="1.0" fill="#1f2e92"/>
<circle cx="60.40" cy="264.20" r="1.0" fill="#1f2e92"/>
<circle cx="46.60" cy="254.00" r="1.0" fill="#1f2e92"/>
<circle cx="52.60" cy="238.60" r="1.0" fill="#1f2e92"/>
<circle cx="59.00" cy="246.00" r="1.0" fill="#1f2e92"/>
<circle cx="44.00" cy="241.00" r="1.0" fill="#1f2e92"/>
<circle cx="57.00" cy="243.00" r="1.0" fill="#1f2e92"/>
<line x1="77.75" y1="226.00" x2="77.75" y2="232.00" stroke="#ff3c3c" stroke-width="0.9"/>
<line x1="77.75" y1="239.00" x2="77.75" y2="241.00" stroke="#ff3c3c" stroke-width="0.9"/>
<rect x="68.32" y="232.00" width="18.87" height="7.00" fill="#ff7a7a" stroke="#ff3c3c" stroke-width="0.9"/>
<line x1="68.32" y1="235.40" x2="87.18" y2="235.40" stroke="#ee1c1c" stroke-width="1"/>
<circle cx="71.00" cy="228.40" r="1.0" fill="#ee0000"/>
<circle cx="87.60" cy="226.00" r="1.0" fill="#ee0000"/>
<circle cx="77.60" cy="226.60" r="1.0" fill="#ee0000"/>
<circle cx="75.00" cy="240.00" r="1.0" fill="#ee0000"/>
<circle cx="79.00" cy="238.00" r="1.0" fill="#ee0000"/>
<circle cx="83.00" cy="234.00" r="1.0" fill="#ee0000"/>
<circle cx="72.00" cy="237.00" r="1.0" fill="#ee0000"/>
<line x1="102.91" y1="233.00" x2="102.91" y2="234.00" stroke="#129c66" stroke-width="0.9"/>
<line x1="102.91" y1="242.00" x2="102.91" y2="243.00" stroke="#129c66" stroke-width="0.9"/>
<rect x="93.47" y="234.00" width="18.87" height="8.00" fill="#45b585" stroke="#129c66" stroke-width="0.9"/>
<line x1="93.47" y1="238.60" x2="112.34" y2="238.60" stroke="#0b8a55" stroke-width="1"/>
<circle cx="94.60" cy="259.00" r="1.0" fill="#078a4e"/>
<circle cx="106.00" cy="266.60" r="1.0" fill="#078a4e"/>
<circle cx="100.00" cy="234.00" r="1.0" fill="#078a4e"/>
<circle cx="104.00" cy="236.00" r="1.0" fill="#078a4e"/>
<circle cx="108.00" cy="240.00" r="1.0" fill="#078a4e"/>
<circle cx="112.00" cy="236.00" r="1.0" fill="#078a4e"/>
<circle cx="97.00" cy="238.00" r="1.0" fill="#078a4e"/>
<rect x="162.60" y="195.10" width="80.40" height="73.00" fill="none" stroke="#a0a0a0" stroke-width="1.05"/>
<line x1="160.90" y1="209.40" x2="162.60" y2="209.40" stroke="#a0a0a0" stroke-width="0.8"/>
<text x="160.30" y="211.55" class="tk" text-anchor="end">5.8</text>
<line x1="160.90" y1="230.60" x2="162.60" y2="230.60" stroke="#a0a0a0" stroke-width="0.8"/>
<text x="160.30" y="232.75" class="tk" text-anchor="end">5.6</text>
<line x1="160.90" y1="252.00" x2="162.60" y2="252.00" stroke="#a0a0a0" stroke-width="0.8"/>
<text x="160.30" y="254.15" class="tk" text-anchor="end">5.4</text>
<text x="177.67" y="276.00" class="xl" text-anchor="middle">SB</text>
<text x="202.80" y="276.00" class="xl" text-anchor="middle">SG</text>
<text x="227.92" y="276.00" class="xl" text-anchor="middle">OG</text>
<text x="0" y="0" class="yl" style="font-size:5.95px" text-anchor="middle" transform="translate(147.30,233.20) rotate(-90)">Soil Microbe Shannon</text>
<text x="142.90" y="199.70" class="pl">J</text>
<line x1="177.67" y1="221.00" x2="177.67" y2="232.40" stroke="#5160ae" stroke-width="0.9"/>
<line x1="177.67" y1="254.00" x2="177.67" y2="265.00" stroke="#5160ae" stroke-width="0.9"/>
<rect x="168.25" y="232.40" width="18.84" height="21.60" fill="#9ba4d3" stroke="#5160ae" stroke-width="0.9"/>
<line x1="168.25" y1="241.40" x2="187.10" y2="241.40" stroke="#34429a" stroke-width="1"/>
<circle cx="177.00" cy="221.00" r="1.0" fill="#1f2e92"/>
<circle cx="172.00" cy="228.00" r="1.0" fill="#1f2e92"/>
<circle cx="168.60" cy="230.60" r="1.0" fill="#1f2e92"/>
<circle cx="170.00" cy="237.00" r="1.0" fill="#1f2e92"/>
<circle cx="176.00" cy="239.00" r="1.0" fill="#1f2e92"/>
<circle cx="177.00" cy="244.00" r="1.0" fill="#1f2e92"/>
<circle cx="174.00" cy="250.00" r="1.0" fill="#1f2e92"/>
<circle cx="175.00" cy="255.00" r="1.0" fill="#1f2e92"/>
<circle cx="185.40" cy="255.40" r="1.0" fill="#1f2e92"/>
<circle cx="177.00" cy="265.00" r="1.0" fill="#1f2e92"/>
<line x1="202.80" y1="234.60" x2="202.80" y2="237.60" stroke="#ff3c3c" stroke-width="0.9"/>
<line x1="202.80" y1="244.80" x2="202.80" y2="245.50" stroke="#ff3c3c" stroke-width="0.9"/>
<rect x="193.38" y="237.60" width="18.84" height="7.20" fill="#ff7a7a" stroke="#ff3c3c" stroke-width="0.9"/>
<line x1="193.38" y1="241.40" x2="212.22" y2="241.40" stroke="#ee1c1c" stroke-width="1"/>
<circle cx="206.60" cy="234.60" r="1.0" fill="#ee0000"/>
<circle cx="196.00" cy="243.00" r="1.0" fill="#ee0000"/>
<circle cx="200.00" cy="241.00" r="1.0" fill="#ee0000"/>
<circle cx="204.00" cy="240.00" r="1.0" fill="#ee0000"/>
<circle cx="208.00" cy="238.00" r="1.0" fill="#ee0000"/>
<circle cx="211.00" cy="243.00" r="1.0" fill="#ee0000"/>
<circle cx="212.00" cy="239.50" r="1.0" fill="#ee0000"/>
<circle cx="211.50" cy="241.50" r="1.0" fill="#ee0000"/>
<circle cx="209.50" cy="244.30" r="1.0" fill="#ee0000"/>
<circle cx="199.50" cy="244.00" r="1.0" fill="#ee0000"/>
<circle cx="194.50" cy="241.80" r="1.0" fill="#ee0000"/>
<circle cx="203.50" cy="244.50" r="1.0" fill="#ee0000"/>
<circle cx="212.60" cy="244.60" r="1.0" fill="#ee0000"/>
<line x1="227.92" y1="236.00" x2="227.92" y2="236.30" stroke="#129c66" stroke-width="0.9"/>
<line x1="227.92" y1="247.40" x2="227.92" y2="262.00" stroke="#129c66" stroke-width="0.9"/>
<rect x="218.50" y="236.30" width="18.84" height="11.10" fill="#45b585" stroke="#129c66" stroke-width="0.9"/>
<line x1="218.50" y1="240.40" x2="237.35" y2="240.40" stroke="#0b8a55" stroke-width="1"/>
<circle cx="220.00" cy="236.60" r="1.0" fill="#078a4e"/>
<circle cx="232.00" cy="236.80" r="1.0" fill="#078a4e"/>
<circle cx="236.00" cy="236.50" r="1.0" fill="#078a4e"/>
<circle cx="228.00" cy="219.40" r="1.0" fill="#078a4e"/>
<circle cx="221.40" cy="235.00" r="1.0" fill="#078a4e"/>
<circle cx="237.00" cy="237.40" r="1.0" fill="#078a4e"/>
<circle cx="237.40" cy="240.60" r="1.0" fill="#078a4e"/>
<circle cx="224.60" cy="243.00" r="1.0" fill="#078a4e"/>
<circle cx="227.40" cy="248.00" r="1.0" fill="#078a4e"/>
<circle cx="234.00" cy="257.00" r="1.0" fill="#078a4e"/>
<circle cx="229.40" cy="262.00" r="1.0" fill="#078a4e"/>
<rect x="291.40" y="194.40" width="80.20" height="73.00" fill="none" stroke="#a0a0a0" stroke-width="1.05"/>
<line x1="289.70" y1="198.60" x2="291.40" y2="198.60" stroke="#a0a0a0" stroke-width="0.8"/>
<text x="289.10" y="200.75" class="tk" text-anchor="end">1200</text>
<line x1="289.70" y1="218.00" x2="291.40" y2="218.00" stroke="#a0a0a0" stroke-width="0.8"/>
<text x="289.10" y="220.15" class="tk" text-anchor="end">1150</text>
<line x1="289.70" y1="237.40" x2="291.40" y2="237.40" stroke="#a0a0a0" stroke-width="0.8"/>
<text x="289.10" y="239.55" class="tk" text-anchor="end">1100</text>
<line x1="289.70" y1="257.40" x2="291.40" y2="257.40" stroke="#a0a0a0" stroke-width="0.8"/>
<text x="289.10" y="259.55" class="tk" text-anchor="end">1050</text>
<text x="306.44" y="275.30" class="xl" text-anchor="middle">SB</text>
<text x="331.50" y="275.30" class="xl" text-anchor="middle">SG</text>
<text x="356.56" y="275.30" class="xl" text-anchor="middle">OG</text>
<text x="0" y="0" class="yl" text-anchor="middle" transform="translate(272.70,231.70) rotate(-90)">Soil Microbe Margalef</text>
<text x="266.75" y="198.20" class="pl">K</text>
<line x1="306.44" y1="219.40" x2="306.44" y2="230.00" stroke="#5160ae" stroke-width="0.9"/>
<line x1="306.44" y1="245.40" x2="306.44" y2="264.00" stroke="#5160ae" stroke-width="0.9"/>
<rect x="297.04" y="230.00" width="18.80" height="15.40" fill="#9ba4d3" stroke="#5160ae" stroke-width="0.9"/>
<line x1="297.04" y1="236.60" x2="315.84" y2="236.60" stroke="#34429a" stroke-width="1"/>
<circle cx="314.60" cy="219.00" r="1.0" fill="#1f2e92"/>
<circle cx="300.00" cy="223.40" r="1.0" fill="#1f2e92"/>
<circle cx="305.00" cy="229.40" r="1.0" fill="#1f2e92"/>
<circle cx="311.40" cy="232.00" r="1.0" fill="#1f2e92"/>
<circle cx="307.40" cy="235.40" r="1.0" fill="#1f2e92"/>
<circle cx="306.00" cy="237.00" r="1.0" fill="#1f2e92"/>
<circle cx="300.00" cy="240.00" r="1.0" fill="#1f2e92"/>
<circle cx="312.00" cy="247.40" r="1.0" fill="#1f2e92"/>
<circle cx="309.40" cy="259.40" r="1.0" fill="#1f2e92"/>
<circle cx="310.60" cy="264.60" r="1.0" fill="#1f2e92"/>
<line x1="331.50" y1="219.00" x2="331.50" y2="223.00" stroke="#ff3c3c" stroke-width="0.9"/>
<line x1="331.50" y1="236.60" x2="331.50" y2="251.00" stroke="#ff3c3c" stroke-width="0.9"/>
<rect x="322.10" y="223.00" width="18.80" height="13.60" fill="#ff7a7a" stroke="#ff3c3c" stroke-width="0.9"/>
<line x1="322.10" y1="228.60" x2="340.90" y2="228.60" stroke="#ee1c1c" stroke-width="1"/>
<circle cx="330.00" cy="219.00" r="1.0" fill="#ee0000"/>
<circle cx="323.00" cy="222.00" r="1.0" fill="#ee0000"/>
<circle cx="334.60" cy="223.00" r="1.0" fill="#ee0000"/>
<circle cx="326.00" cy="226.00" r="1.0" fill="#ee0000"/>
<circle cx="330.00" cy="231.40" r="1.0" fill="#ee0000"/>
<circle cx="339.40" cy="231.00" r="1.0" fill="#ee0000"/>
<circle cx="334.60" cy="238.00" r="1.0" fill="#ee0000"/>
<circle cx="321.60" cy="242.60" r="1.0" fill="#ee0000"/>
<circle cx="333.00" cy="251.40" r="1.0" fill="#ee0000"/>
<line x1="356.56" y1="220.00" x2="356.56" y2="225.00" stroke="#129c66" stroke-width="0.9"/>
<line x1="356.56" y1="232.00" x2="356.56" y2="234.60" stroke="#129c66" stroke-width="0.9"/>
<rect x="347.16" y="225.00" width="18.80" height="7.00" fill="#45b585" stroke="#129c66" stroke-width="0.9"/>
<line x1="347.16" y1="228.00" x2="365.96" y2="228.00" stroke="#0b8a55" stroke-width="1"/>
<circle cx="353.00" cy="220.60" r="1.0" fill="#078a4e"/>
<circle cx="356.60" cy="222.00" r="1.0" fill="#078a4e"/>
<circle cx="362.60" cy="224.00" r="1.0" fill="#078a4e"/>
<circle cx="347.00" cy="232.00" r="1.0" fill="#078a4e"/>
<circle cx="350.00" cy="234.60" r="1.0" fill="#078a4e"/>
<circle cx="356.00" cy="234.00" r="1.0" fill="#078a4e"/>
<rect x="411.50" y="193.40" width="80.40" height="73.00" fill="none" stroke="#a0a0a0" stroke-width="1.05"/>
<line x1="409.80" y1="200.60" x2="411.50" y2="200.60" stroke="#a0a0a0" stroke-width="0.8"/>
<text x="409.20" y="202.75" class="tk" text-anchor="end">0.4</text>
<line x1="409.80" y1="224.00" x2="411.50" y2="224.00" stroke="#a0a0a0" stroke-width="0.8"/>
<text x="409.20" y="226.15" class="tk" text-anchor="end">0.2</text>
<line x1="409.80" y1="247.00" x2="411.50" y2="247.00" stroke="#a0a0a0" stroke-width="0.8"/>
<text x="409.20" y="249.15" class="tk" text-anchor="end">0.0</text>
<text x="426.57" y="274.30" class="xl" text-anchor="middle">SB</text>
<text x="451.70" y="274.30" class="xl" text-anchor="middle">SG</text>
<text x="476.82" y="274.30" class="xl" text-anchor="middle">OG</text>
<text x="0" y="0" class="yl" text-anchor="middle" transform="translate(394.20,230.20) rotate(-90)">Soil Microbe <tspan font-style="italic" font-weight="normal">β</tspan></text>
<text x="390.50" y="200.20" class="pl">L</text>
<line x1="426.57" y1="219.00" x2="426.57" y2="224.60" stroke="#5160ae" stroke-width="0.9"/>
<line x1="426.57" y1="238.60" x2="426.57" y2="257.40" stroke="#5160ae" stroke-width="0.9"/>
<rect x="417.15" y="224.60" width="18.84" height="14.00" fill="#9ba4d3" stroke="#5160ae" stroke-width="0.9"/>
<line x1="417.15" y1="233.00" x2="436.00" y2="233.00" stroke="#34429a" stroke-width="1"/>
<circle cx="433.00" cy="218.60" r="1.0" fill="#1f2e92"/>
<circle cx="421.00" cy="222.00" r="1.0" fill="#1f2e92"/>
<circle cx="425.00" cy="227.00" r="1.0" fill="#1f2e92"/>
<circle cx="436.40" cy="233.00" r="1.0" fill="#1f2e92"/>
<circle cx="422.00" cy="236.00" r="1.0" fill="#1f2e92"/>
<circle cx="435.00" cy="239.00" r="1.0" fill="#1f2e92"/>
<circle cx="430.40" cy="244.60" r="1.0" fill="#1f2e92"/>
<circle cx="424.40" cy="257.40" r="1.0" fill="#1f2e92"/>
<line x1="451.70" y1="246.00" x2="451.70" y2="248.00" stroke="#ff3c3c" stroke-width="0.9"/>
<line x1="451.70" y1="256.60" x2="451.70" y2="257.40" stroke="#ff3c3c" stroke-width="0.9"/>
<rect x="442.28" y="248.00" width="18.84" height="8.60" fill="#ff7a7a" stroke="#ff3c3c" stroke-width="0.9"/>
<line x1="442.28" y1="252.60" x2="461.12" y2="252.60" stroke="#ee1c1c" stroke-width="1"/>
<circle cx="456.40" cy="236.00" r="1.0" fill="#ee0000"/>
<circle cx="449.00" cy="246.00" r="1.0" fill="#ee0000"/>
<circle cx="460.40" cy="247.40" r="1.0" fill="#ee0000"/>
<circle cx="447.60" cy="250.00" r="1.0" fill="#ee0000"/>
<circle cx="452.40" cy="255.00" r="1.0" fill="#ee0000"/>
<circle cx="454.00" cy="257.40" r="1.0" fill="#ee0000"/>
<line x1="476.82" y1="250.60" x2="476.82" y2="254.00" stroke="#129c66" stroke-width="0.9"/>
<line x1="476.82" y1="257.00" x2="476.82" y2="260.00" stroke="#129c66" stroke-width="0.9"/>
<rect x="467.40" y="254.00" width="18.84" height="3.00" fill="#45b585" stroke="#129c66" stroke-width="0.9"/>
<line x1="467.40" y1="255.50" x2="486.25" y2="255.50" stroke="#0b8a55" stroke-width="1"/>
<circle cx="474.40" cy="263.40" r="1.0" fill="#078a4e"/>
<circle cx="481.00" cy="260.00" r="1.0" fill="#078a4e"/>
<circle cx="477.00" cy="250.60" r="1.0" fill="#078a4e"/>
<circle cx="473.60" cy="252.00" r="1.0" fill="#078a4e"/>
<circle cx="468.00" cy="257.00" r="1.0" fill="#078a4e"/>
<circle cx="484.00" cy="255.00" r="1.0" fill="#078a4e"/>
<path d="M426.57 211.90V210.60H451.70V211.90" fill="none" stroke="#5e5e5e" stroke-width="1"/>
<ellipse cx="439.14" cy="208.50" rx="0.95" ry="0.75" fill="#2a2a2a"/>
<path d="M426.57 217.30V216.00H476.82V217.30" fill="none" stroke="#5e5e5e" stroke-width="1"/>
<ellipse cx="449.45" cy="213.90" rx="0.95" ry="0.75" fill="#2a2a2a"/>
<ellipse cx="451.70" cy="213.90" rx="0.95" ry="0.75" fill="#2a2a2a"/>
<ellipse cx="453.95" cy="213.90" rx="0.95" ry="0.75" fill="#2a2a2a"/>
<line x1="525.10" y1="127.40" x2="525.10" y2="133.80" stroke="#5160ae" stroke-width="0.7"/>
<rect x="521.20" y="128.30" width="7.6" height="4.6" fill="#9ba4d3" fill-opacity="0.35" stroke="#5160ae" stroke-width="0.75"/>
<line x1="521.60" y1="131.50" x2="528.40" y2="131.50" stroke="#fff" stroke-width="0.8"/>
<circle cx="525.10" cy="130.60" r="0.9" fill="#1f2e92"/>
<text x="532.5" y="133.50" class="lg">SB</text>
<line x1="525.10" y1="136.90" x2="525.10" y2="143.30" stroke="#ff3c3c" stroke-width="0.7"/>
<rect x="521.20" y="137.80" width="7.6" height="4.6" fill="#ff7a7a" fill-opacity="0.35" stroke="#ff3c3c" stroke-width="0.75"/>
<line x1="521.60" y1="141.00" x2="528.40" y2="141.00" stroke="#fff" stroke-width="0.8"/>
<circle cx="525.10" cy="140.10" r="0.9" fill="#ee0000"/>
<text x="532.5" y="143.00" class="lg">SG</text>
<line x1="525.10" y1="146.40" x2="525.10" y2="152.80" stroke="#129c66" stroke-width="0.7"/>
<rect x="521.20" y="147.30" width="7.6" height="4.6" fill="#45b585" fill-opacity="0.35" stroke="#129c66" stroke-width="0.75"/>
<line x1="521.60" y1="150.50" x2="528.40" y2="150.50" stroke="#fff" stroke-width="0.8"/>
<circle cx="525.10" cy="149.60" r="0.9" fill="#078a4e"/>
<text x="532.5" y="152.50" class="lg">OG</text>
</svg>
</body></html>
